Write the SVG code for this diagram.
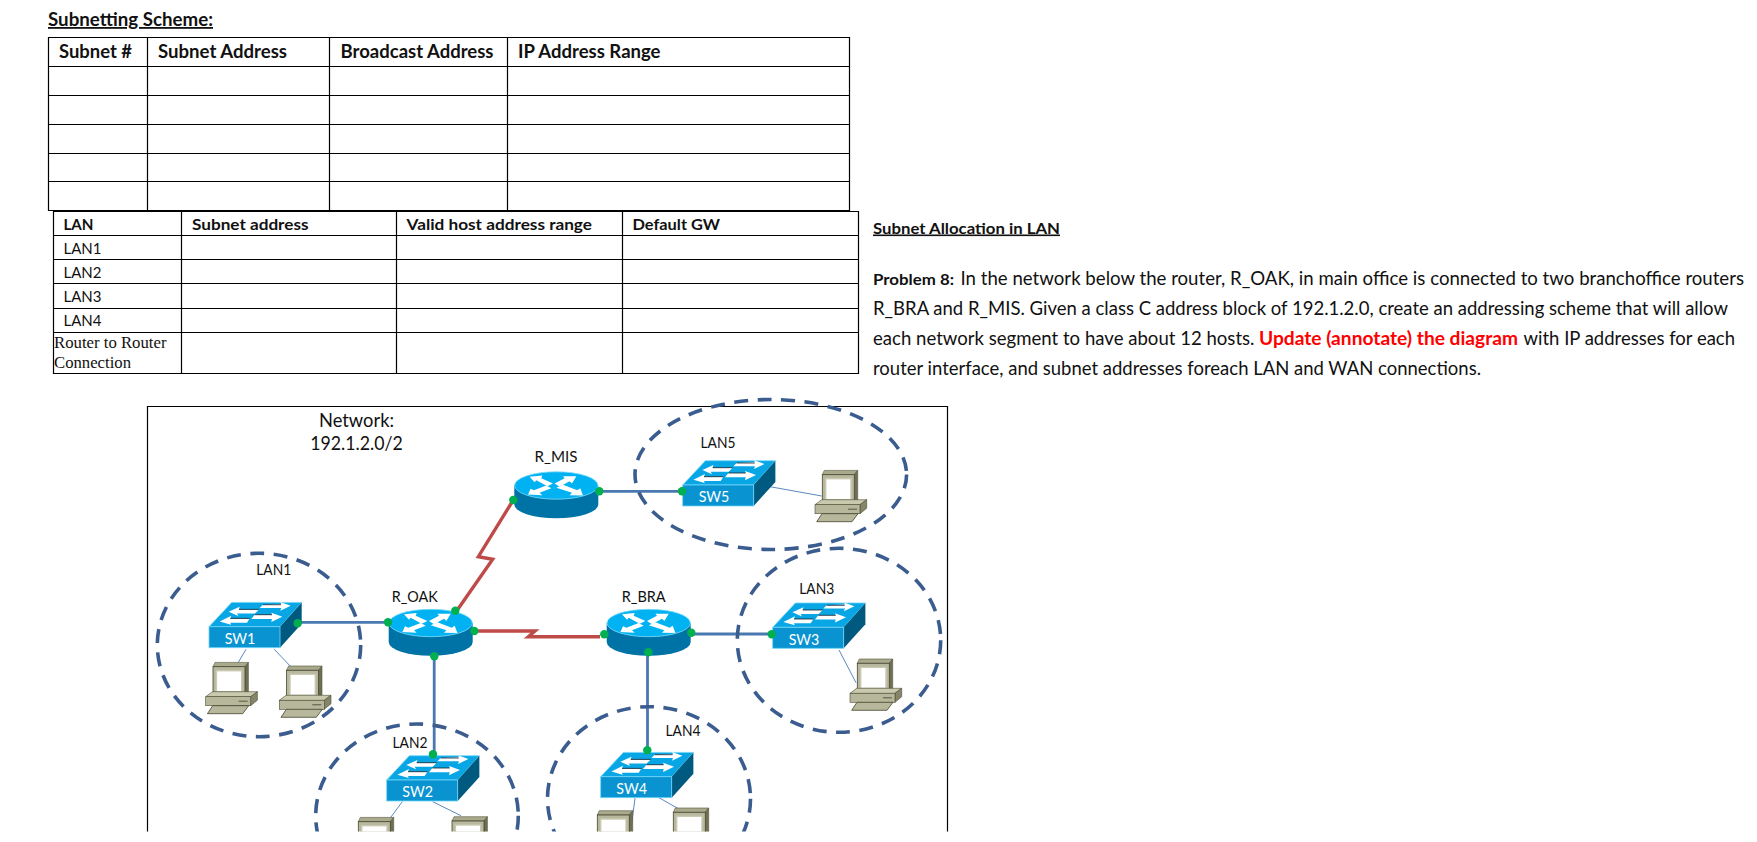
<svg xmlns="http://www.w3.org/2000/svg" xmlns:xlink="http://www.w3.org/1999/xlink" width="1757" height="842" viewBox="0 0 1757 842">
<style>
text{font-family:Lato,"Liberation Sans",sans-serif;fill:#111}
.h1{font-size:18px;font-weight:700}
.h2{font-size:16px;font-weight:700}
.c{font-size:16px}
.ser{font-family:"Liberation Serif",serif;font-size:16.5px}
.p{font-size:18.5px}
.b{font-weight:700}
.red{fill:#f00;font-weight:700}
.u{text-decoration:underline}
.lab{font-size:16px;text-anchor:middle}
.net{font-size:19px;text-anchor:middle}
.sw{font-size:16px;fill:#fff;text-anchor:middle}
.grid{stroke:#000;stroke-width:1.2;fill:none}
.ell{fill:none;stroke:#3b5c8e;stroke-width:3.6;stroke-dasharray:14 9.5}
.eth{fill:none;stroke:#4a78b0;stroke-width:2.8}
.wan{fill:none;stroke:#be4b48;stroke-width:3.4}
.thin{fill:none;stroke:#5b88c0;stroke-width:1}
.dot{fill:#00b050}
</style>
<defs>
<clipPath id="dc"><rect x="0" y="395" width="1757" height="436.5"/></clipPath>
<g id="switch">
<polygon points="0,0 22.7,-24.3 92.7,-24.3 71,0" fill="#09a6e6" stroke="#6fd6f8" stroke-width="0.8"/>
<polygon points="71,0 92.7,-24.3 92.7,-3 71,21" fill="#005a80"/>
<rect x="0" y="0" width="71" height="21" fill="#0a93d1" stroke="#6fd6f8" stroke-width="0.8"/>
<g fill="#fff">
<polygon points="19.7,-15 30.7,-20 30,-17.3 50,-17.3 46,-13.3 28,-13.3 29.3,-10.7"/>
<polygon points="54,-22 72.3,-22.7 71.3,-24.7 81.7,-21 71.3,-16 72.3,-18.7 50.7,-18.7"/>
<polygon points="10.7,-5.3 22.3,-11 21.3,-8.3 40.7,-8.3 38,-4 21.3,-4 22,-2"/>
<polygon points="45.7,-12 63,-12 62.3,-14 73.3,-10 62.3,-4.7 63,-7.7 42.3,-7.7"/>
</g>
<path d="M30,-17.3H50M54,-22H72M21.3,-8.3H40.7M45.7,-12H63" stroke="#10202a" stroke-width="0.8" fill="none"/>
</g>
<g id="router">
<path d="M-42,0 V19 A42,13.7 0 0 0 42,19 V0 Z" fill="#0073a6"/>
<ellipse cx="0" cy="0" rx="41.7" ry="13.7" fill="#00b2f2" stroke="#7fdcf9" stroke-width="0.8"/>
<g fill="#fff">
<polygon points="-26.7,-8.7 -14,-10 -15,-7.3 -3.3,-2 -9,0.7 -20,-5.3 -21.7,-3.3"/>
<polygon points="20,-9.3 15.7,-2 13.3,-4.3 3.3,1.3 -1.7,-2 8.3,-7.3 6.7,-9.3"/>
<polygon points="-28.3,9 -25.7,3.3 -22.3,4.7 -10,0 -5,2.7 -16.7,7.3 -14,9.7"/>
<polygon points="26.7,10 13.3,9.7 15.7,7.3 0,2.3 6.7,-0.7 21,4.7 24,2.7"/>
</g>
</g>
<g id="pc">
<polygon points="7.3,5 9.3,0.7 42.7,0.7 39.3,5" fill="#a9a98b" stroke="#55553e" stroke-width="0.6"/>
<polygon points="39.3,5 42.7,0.7 42.7,30 39.3,34" fill="#6f6f54" stroke="#55553e" stroke-width="0.6"/>
<rect x="7.3" y="5" width="32" height="28" fill="#b8b89e" stroke="#44442f" stroke-width="0.8"/>
<rect x="10.7" y="9" width="25.3" height="21" fill="#fff" stroke="#c9c9b2" stroke-width="1.4"/>
<polygon points="0,35 6.7,30 51.7,30 45,35" fill="#c9c9ae" stroke="#4c4c36" stroke-width="0.6"/>
<polygon points="45,35 51.7,30 51.7,38.5 45,44" fill="#85856a" stroke="#4c4c36" stroke-width="0.6"/>
<rect x="0" y="35" width="45" height="9" fill="#b7b79c" stroke="#4c4c36" stroke-width="0.6"/>
<line x1="33" y1="39.5" x2="42" y2="39.5" stroke="#4c4c36" stroke-width="0.9"/>
<polygon points="7,44 43,44 37,52 1.7,52" fill="#b7b79c" stroke="#44442f" stroke-width="0.8"/>
</g>
</defs>
<rect width="1757" height="842" fill="#fff"/>

<g id="subnet-table">
<text class="h1 u" x="48" y="26" textLength="165" lengthAdjust="spacingAndGlyphs">Subnetting Scheme:</text>
<path class="grid" d="M48.5,37.5H849.5V210.5H48.5ZM48.5,66.5H849.5M48.5,95.5H849.5M48.5,124.5H849.5M48.5,153.5H849.5M48.5,181.5H849.5M147.5,37.5V210.5M329.5,37.5V210.5M507.5,37.5V210.5"/>
<text class="h1" x="59" y="57.5" textLength="73" lengthAdjust="spacingAndGlyphs">Subnet #</text>
<text class="h1" x="158" y="57.5" textLength="129" lengthAdjust="spacingAndGlyphs">Subnet Address</text>
<text class="h1" x="340.5" y="57.5" textLength="153" lengthAdjust="spacingAndGlyphs">Broadcast Address</text>
<text class="h1" x="518" y="57.5" textLength="142.5" lengthAdjust="spacingAndGlyphs">IP Address Range</text>
</g>

<g id="lan-table">
<path class="grid" d="M53.5,211.5H858.5V373.5H53.5ZM53.5,235.5H858.5M53.5,259.5H858.5M53.5,283.5H858.5M53.5,308.5H858.5M53.5,332.5H858.5M181.5,211.5V373.5M396.5,211.5V373.5M622.5,211.5V373.5"/>
<text class="h2" x="63.5" y="230" textLength="30" lengthAdjust="spacingAndGlyphs">LAN</text>
<text class="h2" x="192" y="230" textLength="116.5" lengthAdjust="spacingAndGlyphs">Subnet address</text>
<text class="h2" x="406.5" y="230" textLength="185.5" lengthAdjust="spacingAndGlyphs">Valid host address range</text>
<text class="h2" x="632.5" y="230" textLength="87.5" lengthAdjust="spacingAndGlyphs">Default GW</text>
<text class="c" x="63.5" y="253.5" textLength="38" lengthAdjust="spacingAndGlyphs">LAN1</text>
<text class="c" x="63.5" y="277.5" textLength="38" lengthAdjust="spacingAndGlyphs">LAN2</text>
<text class="c" x="63.5" y="301.5" textLength="38" lengthAdjust="spacingAndGlyphs">LAN3</text>
<text class="c" x="63.5" y="326" textLength="38" lengthAdjust="spacingAndGlyphs">LAN4</text>
<text class="ser" x="54" y="348" textLength="112.5" lengthAdjust="spacingAndGlyphs">Router to Router</text>
<text class="ser" x="54" y="368" textLength="77" lengthAdjust="spacingAndGlyphs">Connection</text>
</g>

<g id="problem-text">
<text class="h2 u" x="873" y="233.5" textLength="187" lengthAdjust="spacingAndGlyphs">Subnet Allocation in LAN</text>
<text class="h2" x="873" y="285" textLength="81" lengthAdjust="spacingAndGlyphs">Problem 8:</text>
<text class="p" x="960.5" y="285" textLength="783.5" lengthAdjust="spacingAndGlyphs">In the network below the router, R_OAK, in main office is connected to two branchoffice routers</text>
<text class="p" x="873" y="315" textLength="855" lengthAdjust="spacingAndGlyphs">R_BRA and R_MIS. Given a class C address block of 192.1.2.0, create an addressing scheme that will allow</text>
<text class="p" x="873" y="345" textLength="381.5" lengthAdjust="spacingAndGlyphs">each network segment to have about 12 hosts.</text>
<text class="p red" x="1259" y="345" textLength="259" lengthAdjust="spacingAndGlyphs">Update (annotate) the diagram</text>
<text class="p" x="1523.5" y="345" textLength="211.5" lengthAdjust="spacingAndGlyphs">with IP addresses for each</text>
<text class="p" x="873" y="374.5" textLength="608" lengthAdjust="spacingAndGlyphs">router interface, and subnet addresses foreach LAN and WAN connections.</text>
</g>

<g id="diagram" clip-path="url(#dc)">
<path id="frame" d="M147.5,842V406.5H947.5V842" fill="none" stroke="#000" stroke-width="1.2"/>
<g id="network-label">
<text class="net" x="356.5" y="426.5" textLength="75" lengthAdjust="spacingAndGlyphs">Network:</text>
<text class="net" x="356.5" y="450" textLength="92.5" lengthAdjust="spacingAndGlyphs">192.1.2.0/2</text>
</g>

<g id="connectors">
<path class="eth" d="M297.7,622.3H388"/>
<path class="eth" d="M434.2,656.3V754"/>
<path class="eth" d="M599.3,491.3H682"/>
<path class="eth" d="M691.3,634H771.7"/>
<path class="eth" d="M647.5,652.3V750"/>
<path class="wan" d="M458,609 L492.7,559.3 L478.3,556.7 L513.3,500"/>
<path class="wan" d="M474.3,631 H535 L528.3,636.7 H600"/>
<path class="thin" d="M246,649.3L238.3,662.3M274.3,649.3L292.3,668.3M402.3,801.7L390,818.3M432.7,801.7L461,815.7M839,650L856,682.7M635,798.3L631.7,823.3M658.3,797.3L677.7,808.3M770,486.7L821.7,496"/>
</g>

<g id="LAN1"><ellipse class="ell" cx="259" cy="645" rx="101.7" ry="91.7"/><text class="lab" x="273.7" y="575" textLength="35" lengthAdjust="spacingAndGlyphs">LAN1</text></g>
<g id="LAN2"><ellipse class="ell" cx="417" cy="815.7" rx="101.3" ry="91.7"/><text class="lab" x="410" y="747.5" textLength="35" lengthAdjust="spacingAndGlyphs">LAN2</text></g>
<g id="LAN3"><ellipse class="ell" cx="839" cy="640.3" rx="101.7" ry="92"/><text class="lab" x="816.7" y="593.5" textLength="35" lengthAdjust="spacingAndGlyphs">LAN3</text></g>
<g id="LAN4"><ellipse class="ell" cx="649" cy="798.7" rx="101.5" ry="92"/><text class="lab" x="683" y="735.5" textLength="35" lengthAdjust="spacingAndGlyphs">LAN4</text></g>
<g id="LAN5"><ellipse class="ell" cx="770.8" cy="474.5" rx="135.8" ry="75"/><text class="lab" x="718" y="447.5" textLength="35" lengthAdjust="spacingAndGlyphs">LAN5</text></g>

<g id="SW1"><use href="#switch" x="209" y="626.7"/><text class="sw" x="240" y="644" textLength="30.7" lengthAdjust="spacingAndGlyphs">SW1</text></g>
<g id="SW2"><use href="#switch" x="386.7" y="780"/><text class="sw" x="417.7" y="797" textLength="30.7" lengthAdjust="spacingAndGlyphs">SW2</text></g>
<g id="SW3"><use href="#switch" x="772.7" y="627.3"/><text class="sw" x="804" y="644.5" textLength="30.7" lengthAdjust="spacingAndGlyphs">SW3</text></g>
<g id="SW4"><use href="#switch" x="600.7" y="776.7"/><text class="sw" x="631.7" y="794" textLength="30.7" lengthAdjust="spacingAndGlyphs">SW4</text></g>
<g id="SW5"><use href="#switch" x="682.7" y="485"/><text class="sw" x="714" y="502" textLength="30.7" lengthAdjust="spacingAndGlyphs">SW5</text></g>

<g id="R_OAK"><use href="#router" x="430.7" y="623"/><text class="lab" x="414.7" y="601.5" textLength="46" lengthAdjust="spacingAndGlyphs">R_OAK</text></g>
<g id="R_MIS"><use href="#router" x="556.3" y="485.5"/><text class="lab" x="556" y="461.5" textLength="43" lengthAdjust="spacingAndGlyphs">R_MIS</text></g>
<g id="R_BRA"><use href="#router" x="648.7" y="623"/><text class="lab" x="643.7" y="601.5" textLength="44" lengthAdjust="spacingAndGlyphs">R_BRA</text></g>

<g id="PC1"><use href="#pc" x="205.7" y="661.7"/></g>
<g id="PC2"><use href="#pc" x="279.3" y="665.3"/></g>
<g id="PC3"><use href="#pc" x="351" y="816.7"/></g>
<g id="PC4"><use href="#pc" x="444.7" y="816"/></g>
<g id="PC5"><use href="#pc" x="850" y="658.3"/></g>
<g id="PC6"><use href="#pc" x="590" y="810"/></g>
<g id="PC7"><use href="#pc" x="666" y="807.3"/></g>
<g id="PC8"><use href="#pc" x="815" y="469.7"/></g>

<g id="ports" class="dot">
<circle cx="297.7" cy="623.3" r="4.2"/><circle cx="388" cy="622.3" r="4.2"/><circle cx="455.3" cy="610.7" r="4.2"/><circle cx="474.3" cy="631" r="4.2"/><circle cx="434.3" cy="656.3" r="4.2"/><circle cx="433" cy="754.3" r="4.2"/><circle cx="513.3" cy="500" r="4.2"/><circle cx="599.3" cy="491.3" r="4.2"/><circle cx="682" cy="491.3" r="4.2"/><circle cx="604.3" cy="634.3" r="4.2"/><circle cx="691.3" cy="632.7" r="4.2"/><circle cx="648.3" cy="652.3" r="4.2"/><circle cx="771.7" cy="634.3" r="4.2"/><circle cx="647.3" cy="750.3" r="4.2"/>
</g>
</g>
</svg>
